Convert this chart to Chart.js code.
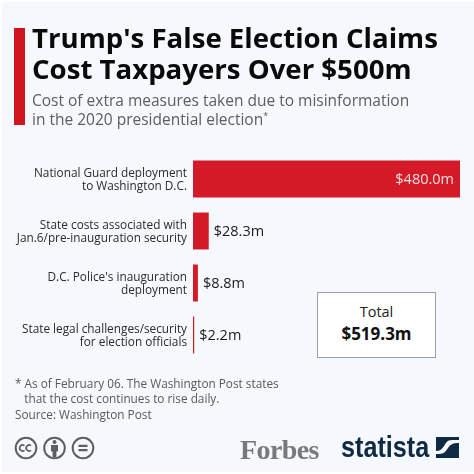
<!DOCTYPE html>
<html lang="en">
<head>
<meta charset="UTF-8">
<title>Trump's False Election Claims</title>
<script src="https://cdn.jsdelivr.net/npm/chart.js"></script>
<style>
  html, body { margin: 0; padding: 0; background: #fff; }
  #wrap { position: relative; width: 474px; height: 474px; overflow: hidden; font-family: "Open Sans", sans-serif; }
  #bg { position: absolute; left: 2px; top: 2px; width: 472px; height: 470px; background: #f5f8fc; }
  #chart { position: absolute; left: 0; top: 0; }
  .t { position: absolute; white-space: nowrap; }
  #accent { position: absolute; left: 14px; top: 28px; width: 11px; height: 97px; background: #d0151f; }
  #title { left: 32px; top: 22px; font-weight: 700; font-size: 27.6px; line-height: 31px; color: #0a0a0a; }
  #sub { left: 32px; top: 91px; font-size: 15.5px; line-height: 19px; color: #5a5f63; }
  #sub sup { font-size: 9px; line-height: 0; }
  #note { left: 15px; top: 376px; font-size: 11.8px; line-height: 15px; color: #555a5e; }
  #src { left: 15px; top: 407px; font-size: 11.8px; line-height: 15px; color: #555a5e; }
  #total { position: absolute; left: 317px; top: 292px; width: 117px; height: 64px; background: #fff; border: 1px solid #9aa0a4; text-align: center; color: #222; }
  #total div:first-child { margin-top: 9px; font-size: 14.5px; line-height: 20px; }
  #total div:last-child { font-size: 17px; font-weight: 700; line-height: 24px; color: #111; }
  #forbes { left: 240px; top: 434px; font-family: "Liberation Serif", serif; font-weight: 700; font-size: 28px; line-height: 32px; letter-spacing: -0.6px; color: #77797b; }
  #statista { left: 341px; top: 430px; font-family: "Liberation Sans", sans-serif; font-weight: 700; font-size: 30px; line-height: 34px; color: #0f2a43; transform: scaleX(0.84); transform-origin: left top; }
  svg { position: absolute; }
</style>
</head>
<body>
<div id="wrap">
  <div id="bg"></div>
  <canvas id="chart" width="474" height="474"></canvas>
  <div id="accent"></div>
  <div class="t" id="title">Trump's False Election Claims<br>Cost Taxpayers Over $500m</div>
  <div class="t" id="sub">Cost of extra measures taken due to misinformation<br>in the 2020 presidential election<sup>*</sup></div>
  <div id="total"><div>Total</div><div>$519.3m</div></div>
  <div class="t" id="note">* As of February 06. The Washington Post states<br>&nbsp;&nbsp;&nbsp;that the cost continues to rise daily.</div>
  <div class="t" id="src">Source: Washington Post</div>
  <svg style="left:14px;top:436px" width="82" height="24" viewBox="0 0 82 24" fill="none" stroke="#5b5f63" stroke-width="2">
    <circle cx="12" cy="12" r="10.3"/>
    <path d="M10.5 9.6a3 3 0 1 0 0 4.8M17 9.6a3 3 0 1 0 0 4.8" stroke-width="1.7"/>
    <circle cx="40.5" cy="12" r="10.3"/>
    <circle cx="40.5" cy="6" r="2" fill="#5b5f63" stroke="none"/>
    <path d="M37 9h7v6.5h-1.6v5.5h-3.8v-5.5H37z" fill="#5b5f63" stroke="none"/>
    <circle cx="69" cy="12" r="10.3"/>
    <path d="M64.5 9.8h9M64.5 14.2h9" stroke-width="2.2"/>
  </svg>
  <div class="t" id="forbes">Forbes</div>
  <div class="t" id="statista">statista</div>
  <svg style="left:436px;top:437px" width="23" height="21" viewBox="0 0 23 21">
    <path d="M0 0H23V3H16C11 3 10 6 8 9C6 12 4 14 0 14Z" fill="#0f2a43"/>
    <path d="M23 6V21H0V17H3C8 17 10 14 12 11C14 8 16 6 23 6Z" fill="#0f2a43"/>
  </svg>
</div>
<script>
  const categories = [
    ["National Guard deployment", "to Washington D.C."],
    ["State costs associated with", "Jan.6/pre-inauguration security"],
    ["D.C. Police's inauguration", "deployment"],
    ["State legal challenges/security", "for election officials"]
  ];
  const costs = [480.0, 28.3, 8.8, 2.2];
  const costLabels = ["$480.0m", "$28.3m", "$8.8m", "$2.2m"];

  // value labels next to the bars, first one sits inside in white
  const valueLabels = {
    id: 'valueLabels',
    afterDatasetsDraw(chart) {
      const ctx = chart.ctx;
      const bars = chart.getDatasetMeta(0).data;
      ctx.save();
      ctx.font = '14.5px "Open Sans"';
      ctx.textBaseline = 'middle';
      bars.forEach((bar, i) => {
        if (i === 0) {
          ctx.fillStyle = '#f7dfe0';
          ctx.textAlign = 'right';
          ctx.fillText(costLabels[i], bar.x - 6, bar.y + 0.5);
        } else {
          ctx.fillStyle = '#1d1d1d';
          ctx.textAlign = 'left';
          ctx.fillText(costLabels[i], bar.x + 5, bar.y + 0.5);
        }
      });
      ctx.restore();
    }
  };

  new Chart(document.getElementById('chart'), {
    type: 'bar',
    data: {
      labels: categories,
      datasets: [{
        data: costs,
        backgroundColor: '#d31a26',
        barPercentage: 0.71,
        categoryPercentage: 1
      }]
    },
    options: {
      indexAxis: 'y',
      responsive: false,
      animation: false,
      layout: { padding: { top: 153, bottom: 113, right: 14, left: 0 } },
      plugins: { legend: { display: false }, tooltip: { enabled: false } },
      scales: {
        x: { display: false, min: 0, max: 480 },
        y: {
          afterFit(scale) { scale.width = 193; },
          border: { display: false },
          grid: { display: false, drawTicks: false },
          ticks: {
            color: '#2b2b2b',
            padding: 6,
            labelOffset: 1.5,
            font: { family: '"Open Sans"', size: 11.8, lineHeight: 1.1 }
          }
        }
      }
    },
    plugins: [valueLabels]
  });
</script>
</body>
</html>
